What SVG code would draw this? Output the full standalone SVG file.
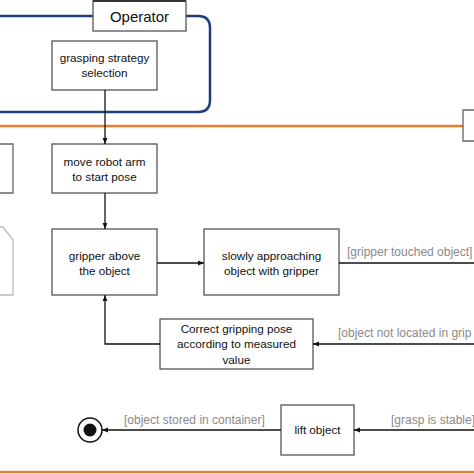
<svg xmlns="http://www.w3.org/2000/svg" width="474" height="474" viewBox="0 0 474 474">
<style>
.box{fill:#fff;stroke:#555;stroke-width:1.3}
.t{font-family:"Liberation Sans",Arial,sans-serif;font-size:11.7px;fill:#111;text-anchor:middle}
.g{font-family:"Liberation Sans",Arial,sans-serif;font-size:12px;fill:#8a8a8a}
.c{fill:none;stroke:#111;stroke-width:1.3}
</style>
<defs>
<marker id="ah" viewBox="0 0 10 10" refX="10" refY="5" markerWidth="6" markerHeight="6" orient="auto" markerUnits="userSpaceOnUse">
<path d="M0,1 L10,5 L0,9 z" fill="#111"/>
</marker>
</defs>
<rect width="474" height="474" fill="#fff"/>
<g id="swimlanes">
<path d="M0,16 H93 M186,16 H198 Q210,16 210,28 V100 Q210,112 198,112 H0" fill="none" stroke="#1f3d7a" stroke-width="2.5"/>
<line x1="0" y1="126" x2="463" y2="126" stroke="#ed7d31" stroke-width="2.5"/>
<line x1="0" y1="472" x2="474" y2="472" stroke="#ed7d31" stroke-width="2.5"/>
</g>
<g id="operator">
<rect x="93" y="1" width="93" height="30" fill="#fff" stroke="#555" stroke-width="1.3"/>
<line x1="93" y1="1" x2="186" y2="1" stroke="#333" stroke-width="2"/>
<text x="139.5" y="21.5" style="font-family:'Liberation Sans',Arial,sans-serif;font-size:15px;fill:#111;text-anchor:middle">Operator</text>
</g>
<g id="right-partial">
<path d="M474,110 H463 V141 H474" fill="none" stroke="#666" stroke-width="1.3"/>
</g>
<g id="left-partial-1">
<path d="M0,144 H13 V193 H0" fill="none" stroke="#666" stroke-width="1.3"/>
</g>
<g id="left-partial-2">
<path d="M0,227 H3 L13,240 V295 H0" fill="none" stroke="#bbb" stroke-width="1.3"/>
</g>
<g id="grasping-strategy">
<rect class="box" x="52" y="41" width="105" height="49"/>
<text class="t" x="104.5" y="62">grasping strategy</text>
<text class="t" x="104.5" y="77">selection</text>
</g>
<g id="move-robot-arm">
<rect class="box" x="52" y="144" width="105" height="49"/>
<text class="t" x="104.5" y="166">move robot arm</text>
<text class="t" x="104.5" y="181">to start pose</text>
</g>
<g id="gripper-above">
<rect class="box" x="52" y="229" width="105" height="66"/>
<text class="t" x="104.5" y="260">gripper above</text>
<text class="t" x="104.5" y="275">the object</text>
</g>
<g id="slowly-approaching">
<rect class="box" x="204" y="229" width="135" height="66"/>
<text class="t" x="271.5" y="260">slowly approaching</text>
<text class="t" x="271.5" y="275">object with gripper</text>
</g>
<g id="correct-pose">
<rect class="box" x="160" y="319" width="153" height="50"/>
<text class="t" x="236.5" y="333">Correct gripping pose</text>
<text class="t" x="236.5" y="348">according to measured</text>
<text class="t" x="236.5" y="364">value</text>
</g>
<g id="lift-object">
<rect class="box" x="281" y="405" width="73" height="50"/>
<text class="t" x="317.5" y="434">lift object</text>
</g>
<g id="final">
<circle cx="90" cy="430" r="12" fill="#fff" stroke="#111" stroke-width="1.5"/>
<circle cx="90" cy="430" r="6.5" fill="#111"/>
</g>
<g id="connectors">
<line class="c" x1="105" y1="90" x2="105" y2="144" marker-end="url(#ah)"/>
<line class="c" x1="105" y1="193" x2="105" y2="229" marker-end="url(#ah)"/>
<line class="c" x1="157" y1="263" x2="204" y2="263" marker-end="url(#ah)"/>
<line class="c" x1="339" y1="263" x2="474" y2="263"/>
<path class="c" d="M160,344 H105 V295" marker-end="url(#ah)"/>
<line class="c" x1="474" y1="344" x2="313" y2="344" marker-end="url(#ah)"/>
<line class="c" x1="474" y1="430" x2="354" y2="430" marker-end="url(#ah)"/>
<line class="c" x1="281" y1="430" x2="102" y2="430" marker-end="url(#ah)"/>
<text class="g" x="347" y="256">[gripper touched object]</text>
<text class="g" x="338" y="337">[object not located in grip</text>
<text class="g" x="391" y="424">[grasp is stable]</text>
<text class="g" x="124" y="424">[object stored in container]</text>
</g>
</svg>
